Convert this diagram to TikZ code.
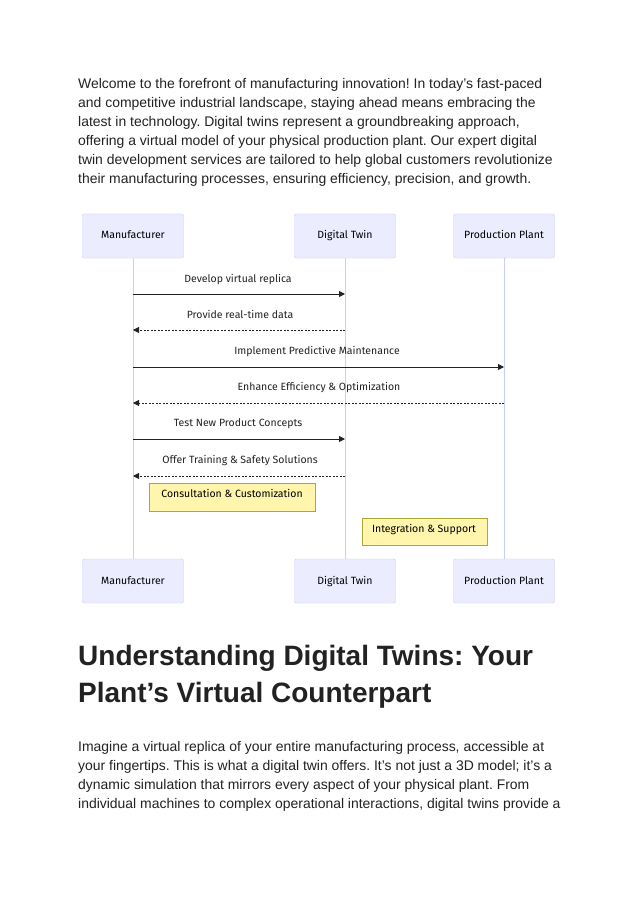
\documentclass[tikz,border=0pt]{standalone}
\usepackage{fontspec}
\setmainfont{Liberation Sans}
\newfontfamily\diag{Fira Sans}
\usetikzlibrary{arrows.meta}
\definecolor{actfill}{HTML}{ECECFF}
\definecolor{actdraw}{HTML}{CCCCFF}
\definecolor{notefill}{HTML}{FFF5AD}
\definecolor{notedraw}{HTML}{AAAA33}
\definecolor{txt}{HTML}{222222}
\tikzset{
 actor/.style={draw=actdraw,fill=actfill,rounded corners=1.5pt,minimum width=101pt,minimum height=44pt,font=\diag\fontsize{10.5}{12}\selectfont,text=black,text height=8pt,text depth=2pt},
 note/.style={draw=notedraw,fill=notefill,font=\diag\fontsize{10.5}{12}\selectfont,text=black,anchor=north west,inner sep=0pt},
 life/.style={draw=actdraw,line width=0.8pt},
 msg/.style={draw=txt,line width=0.9pt,-{Triangle[length=6pt,width=6pt]}},
 rmsg/.style={msg,dash pattern=on 2pt off 1.5pt},
 lbl/.style={font=\diag\fontsize{10.5}{12}\selectfont,text=txt,text height=8pt,text depth=2pt},
 para/.style={anchor=base west,inner sep=0pt,font=\frenchspacing\fontsize{13.95}{18}\selectfont,text=txt},
 head/.style={anchor=base west,inner sep=0pt,font=\bfseries\frenchspacing\fontsize{28}{32}\selectfont,text=txt}
}
\begin{document}
\begin{tikzpicture}[x=1pt,y=-1pt]
\useasboundingbox[fill=white] (0,0) rectangle (638,901);
\node[para] (p1) at (78,89) {Welcome to the forefront of manufacturing innovation! In today’s fast-paced};
\node[para] (p2) at (78,108) {and competitive industrial landscape, staying ahead means embracing the};
\node[para] (p3) at (78,127) {latest in technology. Digital twins represent a groundbreaking approach,};
\node[para] (p4) at (78,146) {offering a virtual model of your physical production plant. Our expert digital};
\node[para] (p5) at (78,165) {twin development services are tailored to help global customers revolutionize};
\node[para] (p6) at (78,184) {their manufacturing processes, ensuring efficiency, precision, and growth.};

\node[actor] (m1) at (133,236) {Manufacturer};
\node[actor] (d1) at (345,236) {Digital Twin};
\node[actor] (pp1) at (504,236) {Production Plant};
\node[actor] (m2) at (133,581) {Manufacturer};
\node[actor] (d2) at (345,581) {Digital Twin};
\node[actor] (pp2) at (504,581) {Production Plant};
\draw[life] (m1) -- (m2);
\draw[life] (d1) -- (d2);
\draw[life] (pp1) -- (pp2);

\coordinate (a1) at (133,294); \coordinate (b1) at (345,294);
\coordinate (a2) at (345,330); \coordinate (b2) at (133,330);
\coordinate (a3) at (133,367); \coordinate (b3) at (504,367);
\coordinate (a4) at (504,403); \coordinate (b4) at (133,403);
\coordinate (a5) at (133,439); \coordinate (b5) at (345,439);
\coordinate (a6) at (345,476); \coordinate (b6) at (133,476);
\draw[msg] (a1) -- (b1);
\draw[rmsg] (a2) -- (b2);
\draw[msg] (a3) -- (b3);
\draw[rmsg] (a4) -- (b4);
\draw[msg] (a5) -- (b5);
\draw[rmsg] (a6) -- (b6);
\node[lbl] (l1) at (238,279) {Develop virtual replica};
\node[lbl] (l2) at (240,315) {Provide real-time data};
\node[lbl] (l3) at (317,351) {Implement Predictive Maintenance};
\node[lbl] (l4) at (319,387) {Enhance Efficiency \& Optimization};
\node[lbl] (l5) at (238,423) {Test New Product Concepts};
\node[lbl] (l6) at (240,460) {Offer Training \& Safety Solutions};

\node[note,minimum width=166pt,minimum height=28pt] (n1) at (149,483) {};
\node[lbl,text=black] (n1t) at (232,494) {Consultation \& Customization};
\node[note,minimum width=125pt,minimum height=27pt] (n2) at (362,518) {};
\node[lbl,text=black] (n2t) at (424,529) {Integration \& Support};

\node[head] (h1) at (78,665) {Understanding Digital Twins: Your};
\node[head] (h2) at (78,702) {Plant’s Virtual Counterpart};

\node[para] (q1) at (78,751) {Imagine a virtual replica of your entire manufacturing process, accessible at};
\node[para] (q2) at (78,770) {your fingertips. This is what a digital twin offers. It’s not just a 3D model; it’s a};
\node[para] (q3) at (78,789) {dynamic simulation that mirrors every aspect of your physical plant. From};
\node[para] (q4) at (78,808) {individual machines to complex operational interactions, digital twins provide a};
\end{tikzpicture}
\end{document}
